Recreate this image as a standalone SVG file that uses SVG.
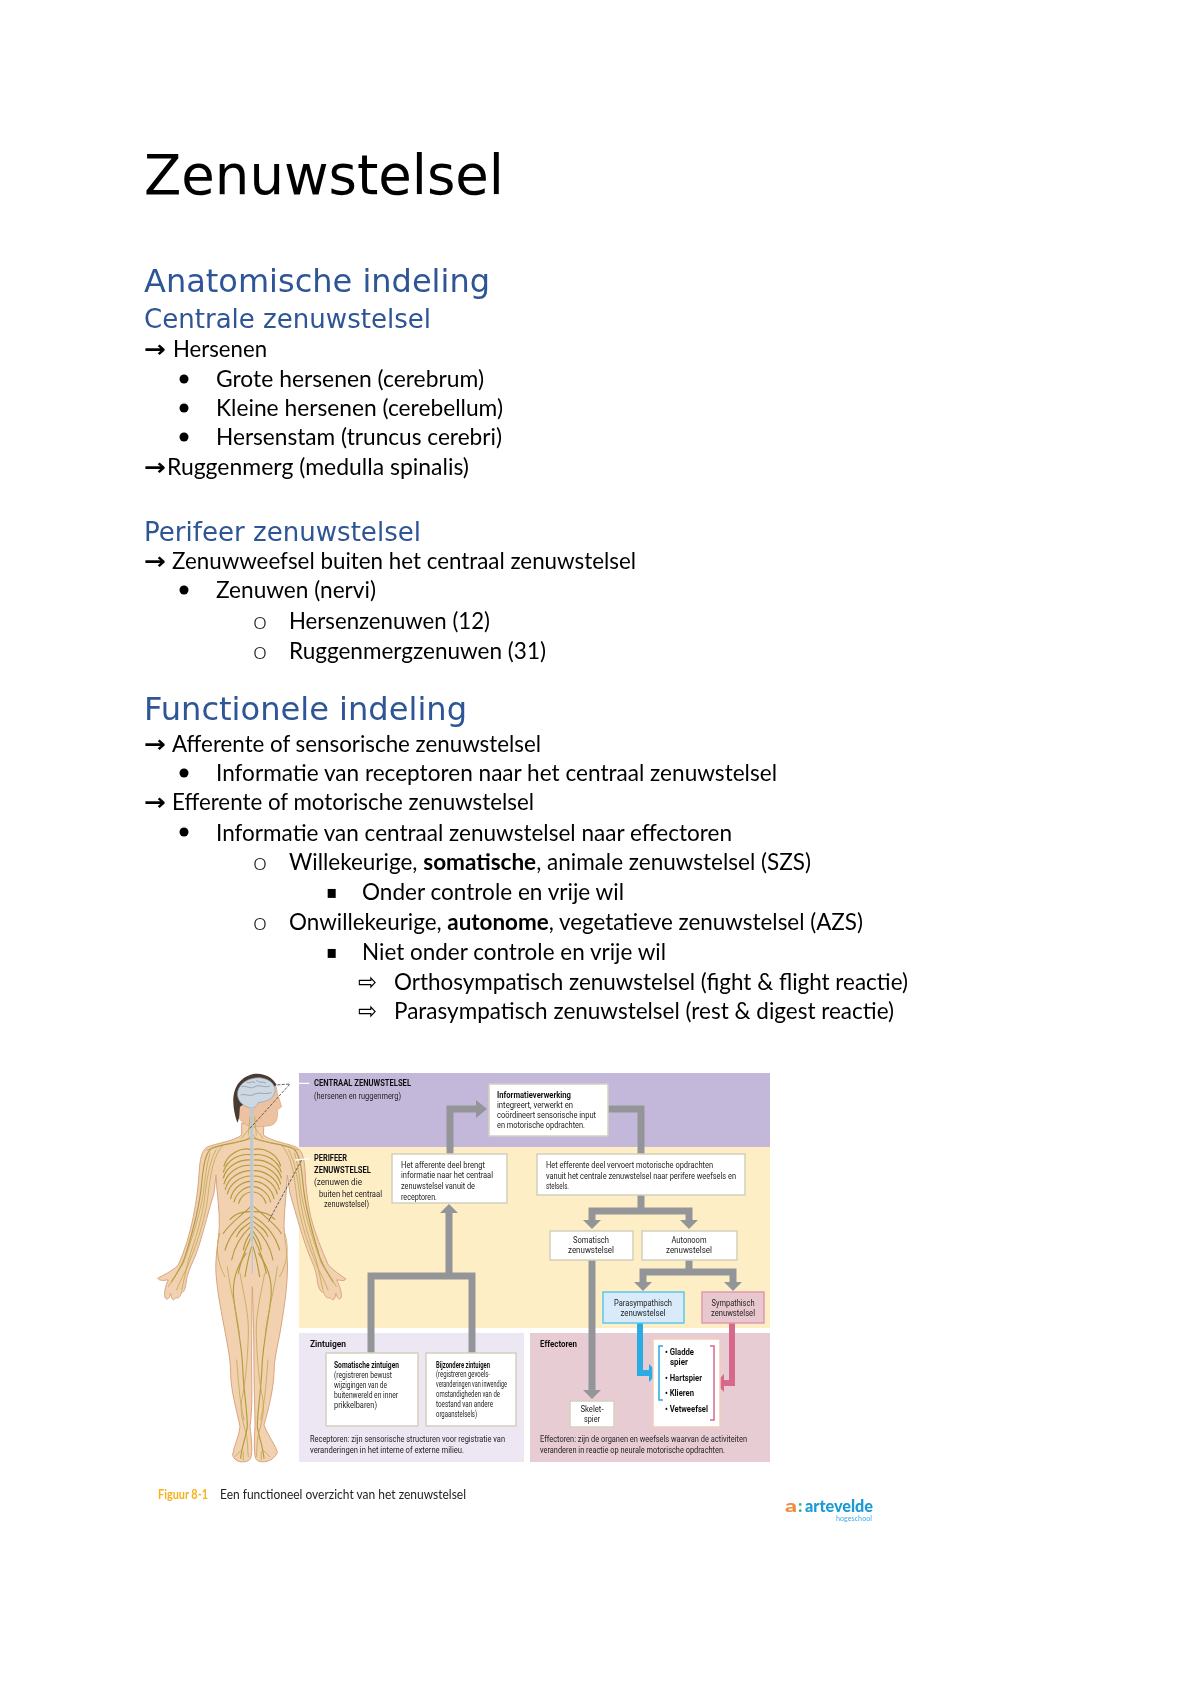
<svg xmlns="http://www.w3.org/2000/svg" xmlns:xlink="http://www.w3.org/1999/xlink" width="1200" height="1698" viewBox="0 0 1200 1698">
<style>
text{white-space:pre}
.t{font-family:"DejaVu Sans",sans-serif;fill:#000}
.h1{font-family:"DejaVu Sans",sans-serif;font-size:32px;fill:#2f5496}
.h2{font-family:"DejaVu Sans",sans-serif;font-size:26px;fill:#2f5496}
.b{font-family:Lato,"Liberation Sans",sans-serif;font-size:23.5px;fill:#000}
.a{font-family:"DejaVu Sans",sans-serif;font-size:23px;font-weight:700;fill:#000}
.s{font-family:"DejaVu Sans",sans-serif;font-size:18px;fill:#000}
.o{font-family:Lato,"Liberation Sans",sans-serif;font-size:24px;font-weight:300;fill:#222}
.g{font-family:"DejaVu Sans",sans-serif;font-size:24px;fill:#000}
.f{font-family:Roboto,"Liberation Sans",sans-serif;font-size:9px;fill:#222}
.fb{font-family:Roboto,"Liberation Sans",sans-serif;font-size:9px;font-weight:700;fill:#111}
.c{text-anchor:middle}
.box{fill:#fff;stroke:#d3d0bd;stroke-width:1.5}
.conn{fill:none;stroke:#939598;stroke-width:7}
.head{fill:#939598}
.n{fill:none;stroke:#b39b3a;stroke-width:3.4;stroke-linecap:round}
.n2{fill:none;stroke:#c0a84e;stroke-width:2.4;stroke-linecap:round}
</style>
<defs>
<filter id="soft" x="-5%" y="-5%" width="110%" height="110%"><feGaussianBlur stdDeviation="0.7"/></filter>
<filter id="soft2" x="-5%" y="-5%" width="110%" height="110%"><feGaussianBlur stdDeviation="0.3"/></filter>
<g id="nerves">
<path class="n" d="M332 268C300 262 262 282 252 318M332 284C300 280 262 298 250 336M332 300C300 298 260 316 250 354M332 316C300 314 262 334 252 372M332 332C302 332 264 352 256 388M332 348C305 348 270 368 262 402M332 364C308 364 278 384 272 416M332 380C312 382 288 400 282 426M332 396C316 398 300 412 296 430"/>
<path class="n" d="M332 235C300 250 250 250 215 265C195 280 190 320 185 370C180 430 160 510 135 590C125 620 110 640 95 665"/>
<path class="n2" d="M250 255C220 285 212 340 205 400C197 470 175 540 150 600C140 630 125 650 110 690M228 270C205 310 200 370 193 420C185 480 165 540 145 600L125 690M210 280C198 320 195 360 190 400C178 470 158 530 130 610L85 680M240 258L200 270"/>
<path class="n" d="M332 440C300 470 270 490 250 520M332 470C300 490 270 520 255 570M332 500C310 520 285 550 275 600M334 530C320 560 305 590 295 640M335 560C325 590 320 620 315 650M332 455C310 455 285 460 270 478M334 485C315 500 300 505 290 530M334 515C325 530 315 540 310 570"/>
<path class="n" d="M318 580C290 620 275 670 282 720C290 790 305 850 308 920C310 990 322 1050 322 1100C318 1130 305 1160 302 1195"/>
<path class="n2" d="M300 640C310 700 328 760 325 830C322 900 318 960 305 1020C300 1060 310 1090 318 1120M262 620C268 680 290 750 298 820M318 1120C325 1150 322 1170 325 1190M290 900C295 960 298 1020 312 1080M305 1170L285 1190M310 1175L310 1200"/>
<path class="n2" d="M240 520C225 560 232 610 255 650M335 225C320 245 300 240 280 250M330 170L325 225M332 200L305 235"/>
</g>
</defs>

<g id="page-text" filter="url(#soft2)">
<text class="t" x="144" y="194" font-size="55" textLength="360" lengthAdjust="spacingAndGlyphs">Zenuwstelsel</text>
<text class="h1" x="144" y="292" textLength="346" lengthAdjust="spacingAndGlyphs">Anatomische indeling</text>
<text class="h2" x="144" y="328" textLength="287" lengthAdjust="spacingAndGlyphs">Centrale zenuwstelsel</text>
<text class="a" x="144" y="357" textLength="22" lengthAdjust="spacingAndGlyphs">→</text>
<text class="b" x="173" y="357" textLength="94" lengthAdjust="spacingAndGlyphs">Hersenen</text>
<circle cx="184" cy="379" r="4.5"/>
<text class="b" x="216" y="387" textLength="268" lengthAdjust="spacingAndGlyphs">Grote hersenen (cerebrum)</text>
<circle cx="184" cy="408" r="4.5"/>
<text class="b" x="216" y="416" textLength="287" lengthAdjust="spacingAndGlyphs">Kleine hersenen (cerebellum)</text>
<circle cx="184" cy="437" r="4.5"/>
<text class="b" x="216" y="445" textLength="286" lengthAdjust="spacingAndGlyphs">Hersenstam (truncus cerebri)</text>
<text class="a" x="144" y="475" textLength="22" lengthAdjust="spacingAndGlyphs">→</text>
<text class="b" x="167" y="475" textLength="302" lengthAdjust="spacingAndGlyphs">Ruggenmerg (medulla spinalis)</text>

<text class="h2" x="144" y="541" textLength="277" lengthAdjust="spacingAndGlyphs">Perifeer zenuwstelsel</text>
<text class="a" x="144" y="569" textLength="22" lengthAdjust="spacingAndGlyphs">→</text>
<text class="b" x="172" y="569" textLength="464" lengthAdjust="spacingAndGlyphs">Zenuwweefsel buiten het centraal zenuwstelsel</text>
<circle cx="184" cy="590" r="4.5"/>
<text class="b" x="216" y="598" textLength="160" lengthAdjust="spacingAndGlyphs">Zenuwen (nervi)</text>
<text class="o" x="253" y="629" textLength="14" lengthAdjust="spacingAndGlyphs">o</text>
<text class="b" x="289" y="629" textLength="201" lengthAdjust="spacingAndGlyphs">Hersenzenuwen (12)</text>
<text class="o" x="253" y="659" textLength="14" lengthAdjust="spacingAndGlyphs">o</text>
<text class="b" x="289" y="659" textLength="257" lengthAdjust="spacingAndGlyphs">Ruggenmergzenuwen (31)</text>

<text class="h1" x="144" y="720" textLength="323" lengthAdjust="spacingAndGlyphs">Functionele indeling</text>
<text class="a" x="144" y="752" textLength="22" lengthAdjust="spacingAndGlyphs">→</text>
<text class="b" x="172" y="752" textLength="369" lengthAdjust="spacingAndGlyphs">Afferente of sensorische zenuwstelsel</text>
<circle cx="184" cy="773" r="4.5"/>
<text class="b" x="216" y="781" textLength="561" lengthAdjust="spacingAndGlyphs">Informatie van receptoren naar het centraal zenuwstelsel</text>
<text class="a" x="144" y="810" textLength="22" lengthAdjust="spacingAndGlyphs">→</text>
<text class="b" x="172" y="810" textLength="362" lengthAdjust="spacingAndGlyphs">Efferente of motorische zenuwstelsel</text>
<circle cx="184" cy="832" r="4.5"/>
<text class="b" x="216" y="840.5" textLength="516" lengthAdjust="spacingAndGlyphs">Informatie van centraal zenuwstelsel naar effectoren</text>
<text class="o" x="253" y="870" textLength="14" lengthAdjust="spacingAndGlyphs">o</text>
<text class="b" x="289" y="870" textLength="522" lengthAdjust="spacingAndGlyphs">Willekeurige, <tspan font-weight="700">somatische</tspan>, animale zenuwstelsel (SZS)</text>
<text class="s" x="326" y="898" textLength="11" lengthAdjust="spacingAndGlyphs">▪</text>
<text class="b" x="362" y="900" textLength="262" lengthAdjust="spacingAndGlyphs">Onder controle en vrije wil</text>
<text class="o" x="253" y="930" textLength="14" lengthAdjust="spacingAndGlyphs">o</text>
<text class="b" x="289" y="930" textLength="574" lengthAdjust="spacingAndGlyphs">Onwillekeurige, <tspan font-weight="700">autonome</tspan>, vegetatieve zenuwstelsel (AZS)</text>
<text class="s" x="326" y="958" textLength="11" lengthAdjust="spacingAndGlyphs">▪</text>
<text class="b" x="362" y="960" textLength="304" lengthAdjust="spacingAndGlyphs">Niet onder controle en vrije wil</text>
<text class="g" x="358" y="990" textLength="19" lengthAdjust="spacingAndGlyphs">⇨</text>
<text class="b" x="394" y="990" textLength="514" lengthAdjust="spacingAndGlyphs">Orthosympatisch zenuwstelsel (fight &amp; flight reactie)</text>
<text class="g" x="358" y="1019" textLength="19" lengthAdjust="spacingAndGlyphs">⇨</text>
<text class="b" x="394" y="1019" textLength="500" lengthAdjust="spacingAndGlyphs">Parasympatisch zenuwstelsel (rest &amp; digest reactie)</text>
</g>

<g filter="url(#soft)">
<g id="bands">
<rect x="299" y="1073" width="471" height="74" fill="#c3b8da"/>
<rect x="299" y="1147" width="471" height="181" fill="#fdeec6"/>
<rect x="299" y="1333" width="225" height="129" fill="#ece7f3"/>
<rect x="530" y="1333" width="240" height="129" fill="#e8ccd4"/>
</g>

<g id="figure" transform="translate(140 1060) scale(0.3333)">
<path fill="#f1d1b0" stroke="#d9a47f" stroke-width="3" d="M305 190L305 225C280 245 225 250 200 262C185 272 180 300 178 330C175 380 170 420 160 470C150 520 135 570 115 615C95 635 70 645 53 655C60 665 75 660 85 660C75 680 72 700 75 712C80 722 88 718 92 700C95 720 100 725 108 712C112 718 122 712 125 695C130 700 135 690 138 670C142 640 150 625 165 590C185 540 200 470 222 400L228 345C230 400 240 450 238 500C235 550 225 590 228 640C232 700 245 760 258 830C265 870 272 900 272 940C272 990 290 1050 300 1100C298 1130 280 1160 278 1185C282 1205 310 1212 328 1200C340 1190 335 1140 330 1100C338 1040 335 990 335 930C335 850 335 760 337 680C340 760 342 850 342 930C342 990 345 1040 345 1100C343 1140 340 1190 350 1200C365 1212 400 1205 412 1178C410 1160 385 1130 372 1095C385 1050 400 990 402 940C402 900 410 870 418 830C430 760 440 700 442 640C445 590 435 550 432 500C432 450 440 400 442 345L450 400C470 470 490 540 510 590C525 625 530 640 533 670C538 690 545 700 550 695C555 712 565 718 570 712C578 725 585 720 588 700C592 718 600 722 605 710C605 700 600 680 590 660C600 660 612 665 618 657C600 645 585 635 565 615C545 570 525 520 512 470C502 420 497 380 495 330C493 300 488 272 470 262C445 250 395 245 370 225L372 190Z"/>
<path fill="#edc2a0" stroke="#d9a47f" stroke-width="2" d="M285 130C285 80 320 48 360 48C395 50 412 75 412 100L425 140L412 150C415 175 410 195 385 198L340 200C310 200 285 170 285 130Z"/>
<path fill="#4a3a30" d="M292 188C272 130 270 60 340 42C375 38 400 55 410 75L300 140C298 155 300 175 292 188Z"/>
<path fill="#cdd8e2" stroke="#8f9dae" stroke-width="2" d="M293 95C300 65 335 50 365 54C390 58 408 75 405 95C400 120 375 125 355 128C352 140 340 148 325 142C305 135 290 120 293 95Z"/>
<path fill="none" stroke="#7f8da0" stroke-width="2" d="M305 80C320 75 330 90 345 80C360 72 370 85 390 78M302 105C318 100 328 112 345 102C360 95 375 105 395 98M320 65C325 75 335 60 345 68M350 60C355 72 370 62 378 70"/>
<use xlink:href="#nerves" href="#nerves"/>
<use xlink:href="#nerves" href="#nerves" transform="translate(674 0) scale(-1 1)"/>
<path fill="none" stroke="#b9c9d8" stroke-width="9" stroke-linecap="round" d="M335 145L335 540"/>
<path fill="none" stroke="#b9c9d8" stroke-width="4" stroke-linecap="round" d="M337 540L337 640"/>
<path fill="none" stroke="#444" stroke-width="2.5" stroke-dasharray="9 4" d="M330 205L450 72L405 75M485 300L385 485"/>
<path fill="none" stroke="#fff" stroke-width="4" d="M452 70L508 70M466 300L510 296"/>
</g>

<g id="connectors">
<path class="conn" d="M450 1154V1109H477M608 1109H641V1154"/>
<polygon class="head" points="487,1109 476,1100 476,1118"/>
<path class="conn" d="M641 1195V1211M592 1221V1211H689V1221"/>
<polygon class="head" points="592,1229 583,1220 601,1220"/>
<polygon class="head" points="689,1229 680,1220 698,1220"/>
<path class="conn" d="M592 1260V1391"/>
<polygon class="head" points="592,1399 583,1390 601,1390"/>
<path class="conn" d="M689 1260V1272M643 1283V1272H733V1283"/>
<polygon class="head" points="643,1291 634,1282 652,1282"/>
<polygon class="head" points="733,1291 724,1282 742,1282"/>
<path class="conn" d="M371 1353V1276H472V1353M449 1276V1212"/>
<polygon class="head" points="449,1204 440,1213 458,1213"/>
<path fill="none" stroke="#29abe2" stroke-width="6" d="M640 1323V1373H650"/>
<polygon fill="#29abe2" points="658,1373 649,1364 649,1382"/>
<path fill="none" stroke="#d6688c" stroke-width="6" d="M732 1323V1383H722"/>
<polygon fill="#d6688c" points="715,1383 724,1374 724,1392"/>
</g>

<g id="cns-label">
<text class="fb" x="314" y="1086" textLength="97" lengthAdjust="spacingAndGlyphs">CENTRAAL ZENUWSTELSEL</text>
<text class="f" x="314" y="1099" textLength="87" lengthAdjust="spacingAndGlyphs">(hersenen en ruggenmerg)</text>
</g>
<g id="pns-label">
<text class="fb" x="314" y="1161" textLength="33" lengthAdjust="spacingAndGlyphs">PERIFEER</text>
<text class="fb" x="314" y="1173" textLength="57" lengthAdjust="spacingAndGlyphs">ZENUWSTELSEL</text>
<text class="f" x="314" y="1185" textLength="48" lengthAdjust="spacingAndGlyphs">(zenuwen die</text>
<text class="f" x="319" y="1197" textLength="63" lengthAdjust="spacingAndGlyphs">buiten het centraal</text>
<text class="f" x="324" y="1207" textLength="45" lengthAdjust="spacingAndGlyphs">zenuwstelsel)</text>
</g>
<g id="node-info">
<rect class="box" x="489" y="1084" width="119" height="52"/>
<text class="fb" x="497" y="1098" textLength="74" lengthAdjust="spacingAndGlyphs">Informatieverwerking</text>
<text class="f" x="497" y="1108" textLength="76" lengthAdjust="spacingAndGlyphs">integreert, verwerkt en</text>
<text class="f" x="497" y="1118" textLength="99" lengthAdjust="spacingAndGlyphs">coördineert sensorische input</text>
<text class="f" x="497" y="1128" textLength="88" lengthAdjust="spacingAndGlyphs">en motorische opdrachten.</text>
</g>
<g id="node-afferent">
<rect class="box" x="392" y="1154" width="115" height="49"/>
<text class="f" x="401" y="1168" textLength="84" lengthAdjust="spacingAndGlyphs">Het afferente deel brengt</text>
<text class="f" x="401" y="1178" textLength="92" lengthAdjust="spacingAndGlyphs">informatie naar het centraal</text>
<text class="f" x="401" y="1189" textLength="74" lengthAdjust="spacingAndGlyphs">zenuwstelsel vanuit de</text>
<text class="f" x="401" y="1200" textLength="36" lengthAdjust="spacingAndGlyphs">receptoren.</text>
</g>
<g id="node-efferent">
<rect class="box" x="537" y="1154" width="208" height="41"/>
<text class="f" x="546" y="1168" textLength="167" lengthAdjust="spacingAndGlyphs">Het efferente deel vervoert motorische opdrachten</text>
<text class="f" x="546" y="1179" textLength="190" lengthAdjust="spacingAndGlyphs">vanuit het centrale zenuwstelsel naar perifere weefsels en</text>
<text class="f" x="546" y="1189" textLength="23" lengthAdjust="spacingAndGlyphs">stelsels.</text>
</g>
<g id="node-somatisch">
<rect class="box" x="550" y="1231" width="83" height="29"/>
<text class="f c" x="591" y="1243" textLength="36" lengthAdjust="spacingAndGlyphs">Somatisch</text>
<text class="f c" x="591" y="1253" textLength="46" lengthAdjust="spacingAndGlyphs">zenuwstelsel</text>
</g>
<g id="node-autonoom">
<rect class="box" x="642" y="1231" width="95" height="29"/>
<text class="f c" x="689" y="1243" textLength="35" lengthAdjust="spacingAndGlyphs">Autonoom</text>
<text class="f c" x="689" y="1253" textLength="46" lengthAdjust="spacingAndGlyphs">zenuwstelsel</text>
</g>
<g id="node-parasympathisch">
<rect x="603" y="1292" width="81" height="31" fill="#d9ebfa" stroke="#5cc8ea" stroke-width="1.5"/>
<text class="f c" x="643" y="1306" textLength="58" lengthAdjust="spacingAndGlyphs">Parasympathisch</text>
<text class="f c" x="643" y="1316" textLength="45" lengthAdjust="spacingAndGlyphs">zenuwstelsel</text>
</g>
<g id="node-sympathisch">
<rect x="702" y="1292" width="62" height="31" fill="#e8c8ce" stroke="#dd9aae" stroke-width="1.5"/>
<text class="f c" x="733" y="1306" textLength="43" lengthAdjust="spacingAndGlyphs">Sympathisch</text>
<text class="f c" x="733" y="1316" textLength="44" lengthAdjust="spacingAndGlyphs">zenuwstelsel</text>
</g>
<g id="zintuigen">
<text class="fb" x="310" y="1347" textLength="36" lengthAdjust="spacingAndGlyphs">Zintuigen</text>
<text class="f" x="310" y="1442" textLength="195" lengthAdjust="spacingAndGlyphs">Receptoren: zijn sensorische structuren voor registratie van</text>
<text class="f" x="310" y="1453" textLength="154" lengthAdjust="spacingAndGlyphs">veranderingen in het interne of externe milieu.</text>
</g>
<g id="node-somatische-zintuigen">
<rect class="box" x="326" y="1353" width="92" height="73"/>
<text class="fb" x="334" y="1368" textLength="65" lengthAdjust="spacingAndGlyphs">Somatische zintuigen</text>
<text class="f" x="334" y="1378" textLength="58" lengthAdjust="spacingAndGlyphs">(registreren bewust</text>
<text class="f" x="334" y="1388" textLength="53" lengthAdjust="spacingAndGlyphs">wijzigingen van de</text>
<text class="f" x="334" y="1398" textLength="64" lengthAdjust="spacingAndGlyphs">buitenwereld en inner</text>
<text class="f" x="334" y="1408" textLength="43" lengthAdjust="spacingAndGlyphs">prikkelbaren)</text>
</g>
<g id="node-bijzondere-zintuigen">
<rect class="box" x="426" y="1353" width="90" height="73"/>
<text class="fb" x="436" y="1368" textLength="54" lengthAdjust="spacingAndGlyphs">Bijzondere zintuigen</text>
<text class="f" x="436" y="1377" textLength="54" lengthAdjust="spacingAndGlyphs">(registreren gevoels-</text>
<text class="f" x="436" y="1387" textLength="71" lengthAdjust="spacingAndGlyphs">veranderingen van inwendige</text>
<text class="f" x="436" y="1397" textLength="64" lengthAdjust="spacingAndGlyphs">omstandigheden van de</text>
<text class="f" x="436" y="1407" textLength="57" lengthAdjust="spacingAndGlyphs">toestand van andere</text>
<text class="f" x="436" y="1417" textLength="41" lengthAdjust="spacingAndGlyphs">orgaanstelsels)</text>
</g>
<g id="effectoren">
<text class="fb" x="540" y="1347" textLength="37" lengthAdjust="spacingAndGlyphs">Effectoren</text>
<text class="f" x="540" y="1442" textLength="207" lengthAdjust="spacingAndGlyphs">Effectoren: zijn de organen en weefsels waarvan de activiteiten</text>
<text class="f" x="540" y="1453" textLength="185" lengthAdjust="spacingAndGlyphs">veranderen in reactie op neurale motorische opdrachten.</text>
</g>
<g id="node-skeletspier">
<rect class="box" x="570" y="1401" width="44" height="26"/>
<text class="f c" x="592" y="1412" textLength="23" lengthAdjust="spacingAndGlyphs">Skelet-</text>
<text class="f c" x="592" y="1422" textLength="16" lengthAdjust="spacingAndGlyphs">spier</text>
</g>
<g id="node-effector-list">
<rect x="653" y="1339" width="67" height="88" fill="#fff" stroke="#f3cdb8" stroke-width="1.5"/>
<path fill="none" stroke="#29abe2" stroke-width="1.5" d="M663 1346H659V1400H663"/>
<path fill="none" stroke="#d6688c" stroke-width="1.5" d="M710 1346H714V1420H710"/>
<text class="fb" x="665" y="1355" textLength="29" lengthAdjust="spacingAndGlyphs">• Gladde</text>
<text class="fb" x="670" y="1365" textLength="18" lengthAdjust="spacingAndGlyphs">spier</text>
<text class="fb" x="665" y="1381" textLength="37" lengthAdjust="spacingAndGlyphs">• Hartspier</text>
<text class="fb" x="665" y="1396" textLength="29" lengthAdjust="spacingAndGlyphs">• Klieren</text>
<text class="fb" x="665" y="1412" textLength="43" lengthAdjust="spacingAndGlyphs">• Vetweefsel</text>
</g>
<g id="caption">
<text x="158" y="1499" font-family="Lato,sans-serif" font-size="13" font-weight="700" fill="#f5b21c" textLength="50" lengthAdjust="spacingAndGlyphs">Figuur 8-1</text>
<text x="220" y="1499" font-family="Lato,sans-serif" font-size="13" fill="#222" textLength="246" lengthAdjust="spacingAndGlyphs">Een functioneel overzicht van het zenuwstelsel</text>
</g>
<g id="logo">
<text x="785" y="1512" font-family="Lato,sans-serif" font-size="17" font-weight="900" fill="#ef8c3c" textLength="12" lengthAdjust="spacingAndGlyphs">a</text>
<text x="798" y="1512" font-family="Lato,sans-serif" font-size="17" font-weight="900" fill="#36b39a">:</text>
<text x="805" y="1512" font-family="Lato,sans-serif" font-size="17" font-weight="900" fill="#1b9ad6" textLength="68" lengthAdjust="spacingAndGlyphs">artevelde</text>
<text x="836" y="1521" font-family="Lato,sans-serif" font-size="8" fill="#3aaee0" textLength="36" lengthAdjust="spacingAndGlyphs">hogeschool</text>
</g>
</g>
</svg>
